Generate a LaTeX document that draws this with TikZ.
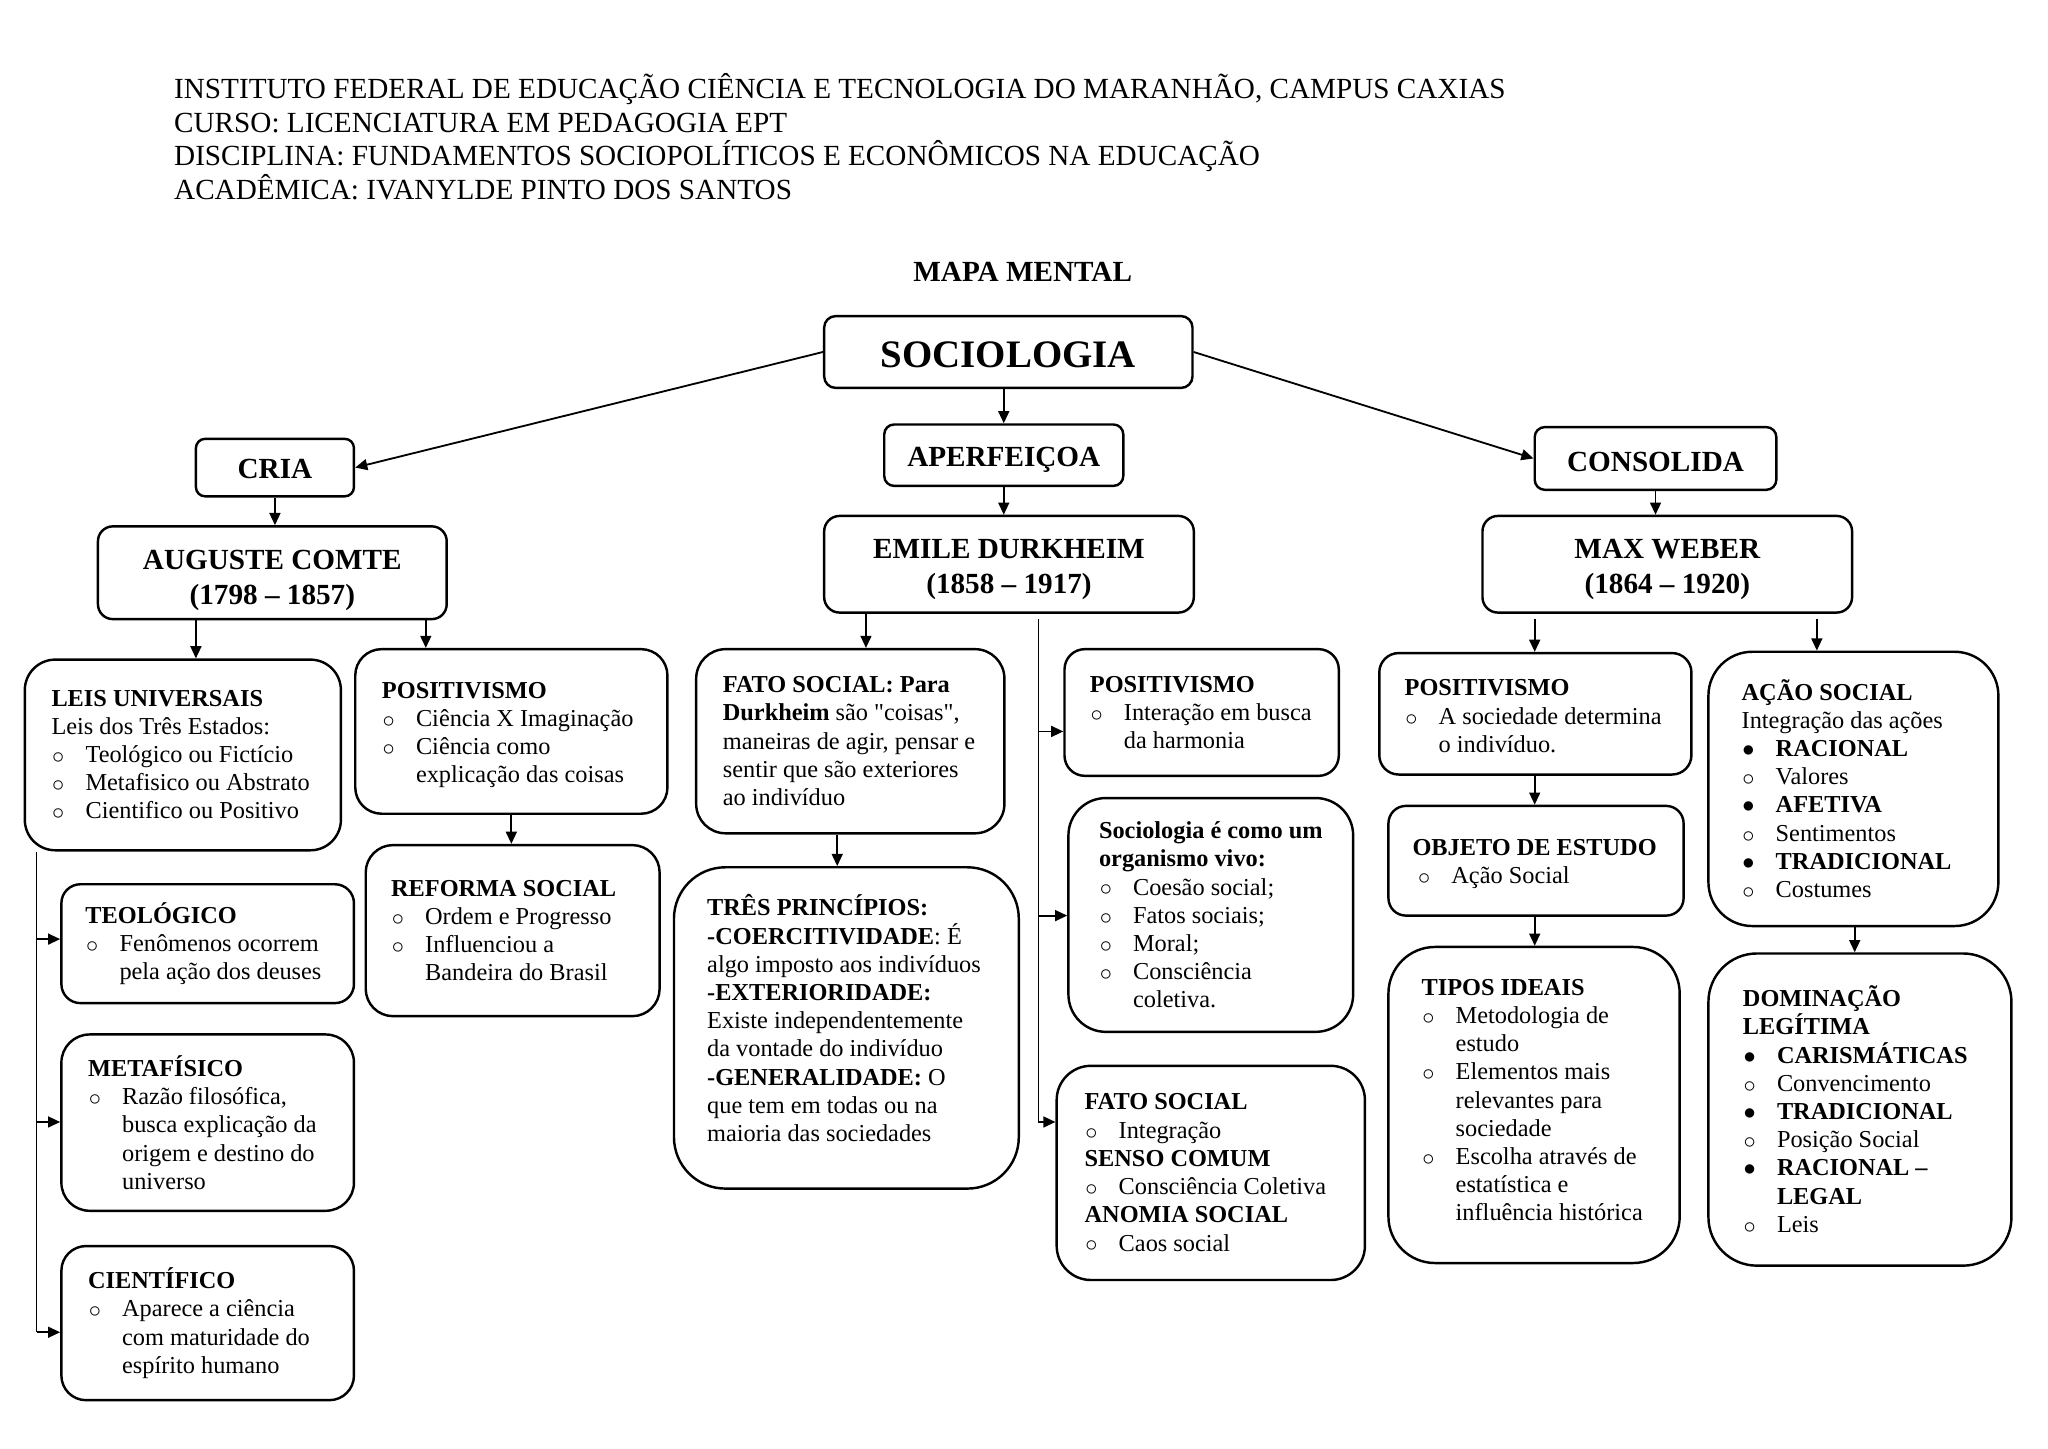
\documentclass[tikz,border=0pt]{standalone}
\usepackage{fontspec}
\setmainfont{Liberation Serif}[Ligatures=TeXOff]
\setmonofont{Liberation Mono}
\usetikzlibrary{arrows.meta}
\newcommand\bo{\makebox[14pt][l]{\hspace{0.3pt}\raisebox{-0.4pt}{$\circ$}}}
\newcommand\bd{\makebox[14pt][l]{\hspace{0.3pt}$\bullet$}}
\newcommand\ind{\hspace*{14pt}}
\newcommand\bx[7][]{%
 \pgfmathsetlengthmacro\rr{0.16*min(#5-#3,#6-#4)*0.537}%
 \node[box,rounded corners=\rr,minimum width={(#5-#3)*0.537pt},minimum height={(#6-#4)*0.537pt},#1] (#2) at ({(#3+#5)/2},{(#4+#6)/2}) {#7};}
\newcommand\tx[5][0]{\node[txt] (#2) at ([xshift=#4*0.537pt,yshift={-(#1)*1pt}]#3.west) {#5};}
\newcommand\ct[4]{\node[big,#1] (#2) at ([yshift={-(#3)*1pt}]#2B.center) {#4};}
\begin{document}
\begin{tikzpicture}[x=0.537pt,y=-0.537pt,
  box/.style={draw,line width=1pt,inner sep=0pt,align=center},
  txt/.style={anchor=west,inner sep=0pt,align=left,font=\fontsize{10}{11.6}\selectfont},
  big/.style={inner sep=0pt,align=center,font=\fontsize{12}{14.5}\selectfont\bfseries},
  ln/.style={draw,line width=0.6pt},
  arr/.style={draw,line width=0.75pt,-{Triangle[length=5pt,width=4.5pt]}}]
\fill[white] (0,0) rectangle (1568,1109);
\useasboundingbox (0,0) rectangle (1568,1109);

\node[anchor=west,inner sep=0pt,align=left,font=\fontsize{12}{13.8}\selectfont] (hdr) at (133,104.5)
 {INSTITUTO FEDERAL DE EDUCAÇÃO CIÊNCIA E TECNOLOGIA DO MARANHÃO, CAMPUS CAXIAS\\
  CURSO: LICENCIATURA EM PEDAGOGIA EPT\\
  DISCIPLINA: FUNDAMENTOS SOCIOPOLÍTICOS E ECONÔMICOS NA EDUCAÇÃO\\
  ACADÊMICA: IVANYLDE PINTO DOS SANTOS};
\node[inner sep=0pt,font=\fontsize{12}{14}\selectfont\bfseries] (mapa) at (783,208) {MAPA MENTAL};

% top level
\bx{socB}{631}{242}{913}{297}{}
\ct{font=\fontsize{16}{18}\selectfont\bfseries}{soc}{1}{SOCIOLOGIA}
\bx{criaB}{150}{336}{271}{380}{}
\ct{}{cria}{0.5}{CRIA}
\bx{aperfB}{677}{325}{860}{372}{}
\ct{}{aperf}{2}{APERFEIÇOA}
\bx{consB}{1175}{327}{1360}{375}{}
\ct{}{cons}{1.6}{CONSOLIDA}
\bx{comteB}{75}{403}{342}{474}{}
\ct{}{comte}{3.2}{AUGUSTE COMTE\\(1798 – 1857)}
\bx{durkB}{631}{395}{914}{469}{}
\ct{}{durk}{2.1}{EMILE DURKHEIM\\(1858 – 1917)}
\bx{weberB}{1135}{395}{1418}{469}{}
\ct{}{weber}{2.1}{MAX WEBER\\(1864 – 1920)}

% Comte branch
\bx{leis}{19}{505}{261}{651}{}
\tx{leisT}{leis}{21}{\textbf{LEIS UNIVERSAIS}\\Leis dos Três Estados:\\\bo Teológico ou Fictício\\\bo Metafisico ou Abstrato\\\bo Cientifico ou Positivo}
\bx{posc}{272}{497}{511}{623}{}
\tx[1.5]{poscT}{posc}{21}{\textbf{POSITIVISMO}\\\bo Ciência X Imaginação\\\bo Ciência como\\\ind explicação das coisas}
\bx{refs}{280}{647}{505}{778}{}
\tx{refsT}{refs}{20}{\textbf{REFORMA SOCIAL}\\\bo Ordem e Progresso\\\bo Influenciou a\\\ind Bandeira do Brasil}
\bx{teo}{47}{677}{271}{768}{}
\tx{teoT}{teo}{19}{\textbf{TEOLÓGICO}\\\bo Fenômenos ocorrem\\\ind pela ação dos deuses}
\bx{meta}{47}{792}{271}{927}{}
\tx{metaT}{meta}{21}{\textbf{METAFÍSICO}\\\bo Razão filosófica,\\\ind busca explicação da\\\ind origem e destino do\\\ind universo}
\bx{cien}{47}{954}{271}{1072}{}
\tx{cienT}{cien}{21}{\textbf{CIENTÍFICO}\\\bo Aparece a ciência\\\ind com maturidade do\\\ind espírito humano}

% Durkheim branch
\bx{fato}{533}{497}{769}{638}{}
\tx{fatoT}{fato}{21}{\textbf{FATO SOCIAL: Para}\\\textbf{Durkheim} são "coisas",\\maneiras de agir, pensar e\\sentir que são exteriores\\ao indivíduo}
\bx{tres}{516}{664}{780}{910}{}
\tx[-4]{tresT}{tres}{26}{\textbf{TRÊS PRINCÍPIOS:}\\\textbf{-COERCITIVIDADE}: É\\algo imposto aos indivíduos\\\textbf{-EXTERIORIDADE:}\\Existe independentemente\\da vontade do indivíduo\\\textbf{-GENERALIDADE:} O\\que tem em todas ou na\\maioria das sociedades}
\bx{posd}{815}{497}{1025}{594}{}
\tx{posdT}{posd}{20}{\textbf{POSITIVISMO}\\\bo Interação em busca\\\ind da harmonia}
\bx{socv}{818}{611}{1036}{790}{}
\tx{socvT}{socv}{24}{\textbf{Sociologia é como um}\\\textbf{organismo vivo:}\\\bo Coesão social;\\\bo Fatos sociais;\\\bo Moral;\\\bo Consciência\\\ind coletiva.}
\bx{fato2}{809}{816}{1045}{980}{}
\tx{fato2T}{fato2}{22}{\textbf{FATO SOCIAL}\\\bo Integração\\\textbf{SENSO COMUM}\\\bo Consciência Coletiva\\\textbf{ANOMIA SOCIAL}\\\bo Caos social}

% Weber branch
\bx{posw}{1056}{500}{1295}{593}{}
\tx[1]{poswT}{posw}{20}{\textbf{POSITIVISMO}\\\bo A sociedade determina\\\ind o indivíduo.}
\bx{obj}{1063}{617}{1289}{701}{}
\tx[1.5]{objT}{obj}{19}{\textbf{OBJETO DE ESTUDO}\\\hspace*{2pt}\bo Ação Social}
\bx{tipos}{1063}{725}{1286}{967}{}
\tx[-2]{tiposT}{tipos}{26}{\textbf{TIPOS IDEAIS}\\\bo Metodologia de\\\ind estudo\\\bo Elementos mais\\\ind relevantes para\\\ind sociedade\\\bo Escolha através de\\\ind estatística e\\\ind influência histórica}
\bx{acao}{1308}{499}{1530}{709}{}
\tx{acaoT}{acao}{26}{\textbf{AÇÃO SOCIAL}\\Integração das ações\\\bd\textbf{RACIONAL}\\\bo Valores\\\bd\textbf{AFETIVA}\\\bo Sentimentos\\\bd\textbf{TRADICIONAL}\\\bo Costumes}
\bx{dom}{1308}{730}{1540}{969}{}
\tx{domT}{dom}{27}{\textbf{DOMINAÇÃO}\\\textbf{LEGÍTIMA}\\\bd\textbf{CARISMÁTICAS}\\\bo Convencimento\\\bd\textbf{TRADICIONAL}\\\bo Posição Social\\\bd\textbf{RACIONAL –}\\\ind\textbf{LEGAL}\\\bo Leis}

% connectors: top
\draw[arr] (socB.west) -- (criaB.east);
\draw[arr] (socB.east) -- (consB.west);
\draw[arr] (socB.south -| aperfB.north) -- (aperfB.north);
\draw[arr] (criaB.south) -- (criaB.south |- comteB.north);
\draw[arr] (aperfB.south) -- (aperfB.south |- durkB.north);
\draw[arr] (consB.south) -- (consB.south |- weberB.north);

% Comte
\coordinate (ca) at (150,0);
\coordinate (cb) at (326,0);
\draw[arr] (comteB.south -| ca) -- (leis.north -| ca);
\draw[arr] (comteB.south -| cb) -- (posc.north -| cb);
\draw[arr] (posc.south) -- (posc.south |- refs.north);
\coordinate (lx) at (28,0);
\coordinate (lt) at (28,719);
\coordinate (lm) at (28,859);
\coordinate (lc) at (28,1020);
\draw[ln] (leis.south -| lx) -- (lc);
\draw[arr] (lt) -- (lt -| teo.west);
\draw[arr] (lm) -- (lm -| meta.west);
\draw[arr] (lc) -- (lc -| cien.west);

% Durkheim
\coordinate (da) at (663,0);
\coordinate (db) at (641,0);
\draw[arr] (durkB.south -| da) -- (fato.north -| da);
\draw[arr] (fato.south -| db) -- (tres.north -| db);
\coordinate (dtop) at (795,474);
\coordinate (d1) at (795,560);
\coordinate (d2) at (795,701);
\coordinate (d3) at (795,859);
\draw[ln] (dtop) -- (d3);
\draw[arr] (d1) -- (d1 -| posd.west);
\draw[arr] (d2) -- (d2 -| socv.west);
\draw[arr] (d3) -- (d3 -| fato2.west);

% Weber
\coordinate (wa) at (1175,474);
\coordinate (wb) at (1391,474);
\coordinate (wc) at (1420,0);
\draw[arr] (wa) -- (wa |- posw.north);
\draw[arr] (wb) -- (wb |- acao.north);
\draw[arr] (posw.south -| wa) -- (obj.north -| wa);
\draw[arr] (obj.south -| wa) -- (tipos.north -| wa);
\draw[arr] (acao.south -| wc) -- (dom.north -| wc);
\end{tikzpicture}
\end{document}
